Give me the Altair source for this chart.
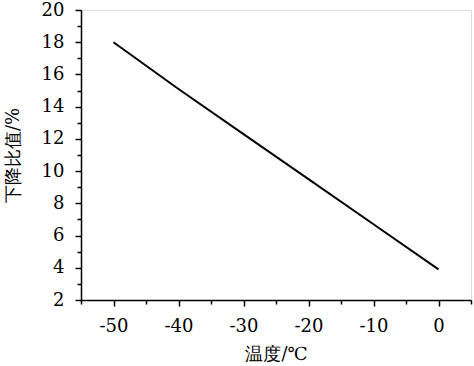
import altair as alt
import pandas as pd

temps = [-50, -40, -30, -20, -10, 0]
ratios = [18.0, 15.1, 12.3, 9.5, 6.7, 3.9]

x_ticks = [-55, -50, -45, -40, -35, -30, -25, -20, -15, -10, -5, 0, 5]
y_ticks = list(range(2, 21))

df = pd.DataFrame({"t": temps, "r": ratios})

FONT = "DejaVu Serif"

chart = alt.Chart(df).mark_line(color="black", strokeWidth=2).encode(
    x=alt.X("t:Q",
            scale=alt.Scale(domain=[-55, 5], nice=False, zero=False),
            axis=alt.Axis(title="温度/℃", values=x_ticks,
                          labelExpr="datum.value % 10 === 0 ? replace(datum.label, '\u2212', '-') : ''",
                          tickSize={"expr": "datum.value % 10 === 0 ? 6 : 4"},
                          grid=False, domainColor="black", tickColor="black",
                          domainWidth=1.5, tickWidth=1.5,
                          labelColor="black", titleColor="black",
                          labelFont=FONT, titleFont=FONT,
                          labelFontSize=18, titleFontSize=18, titleFontWeight="normal",
                          labelPadding=11, titlePadding=10, labelFlush=False)),
    y=alt.Y("r:Q",
            scale=alt.Scale(domain=[2, 20], nice=False, zero=False),
            axis=alt.Axis(title="下降比值/%", values=y_ticks,
                          labelExpr="datum.value % 2 === 0 ? datum.label : ''",
                          tickSize={"expr": "datum.value % 2 === 0 ? 6 : 4"},
                          grid=False, domainColor="black", tickColor="black",
                          domainWidth=1.5, tickWidth=1.5,
                          labelColor="black", titleColor="black",
                          labelFont=FONT, titleFont=FONT,
                          labelFontSize=18, titleFontSize=18, titleFontWeight="normal",
                          labelPadding=11, titleX=-59, labelFlush=False)),
).properties(
    width=390, height=290,
    autosize=alt.AutoSizeParams(type="none"),
    padding={"left": 81, "top": 10, "right": 3, "bottom": 66},
).configure_view(stroke=None).configure(background="white", font=FONT)

chart.save("out.html", embed_options={"renderer": "svg", "actions": False})
